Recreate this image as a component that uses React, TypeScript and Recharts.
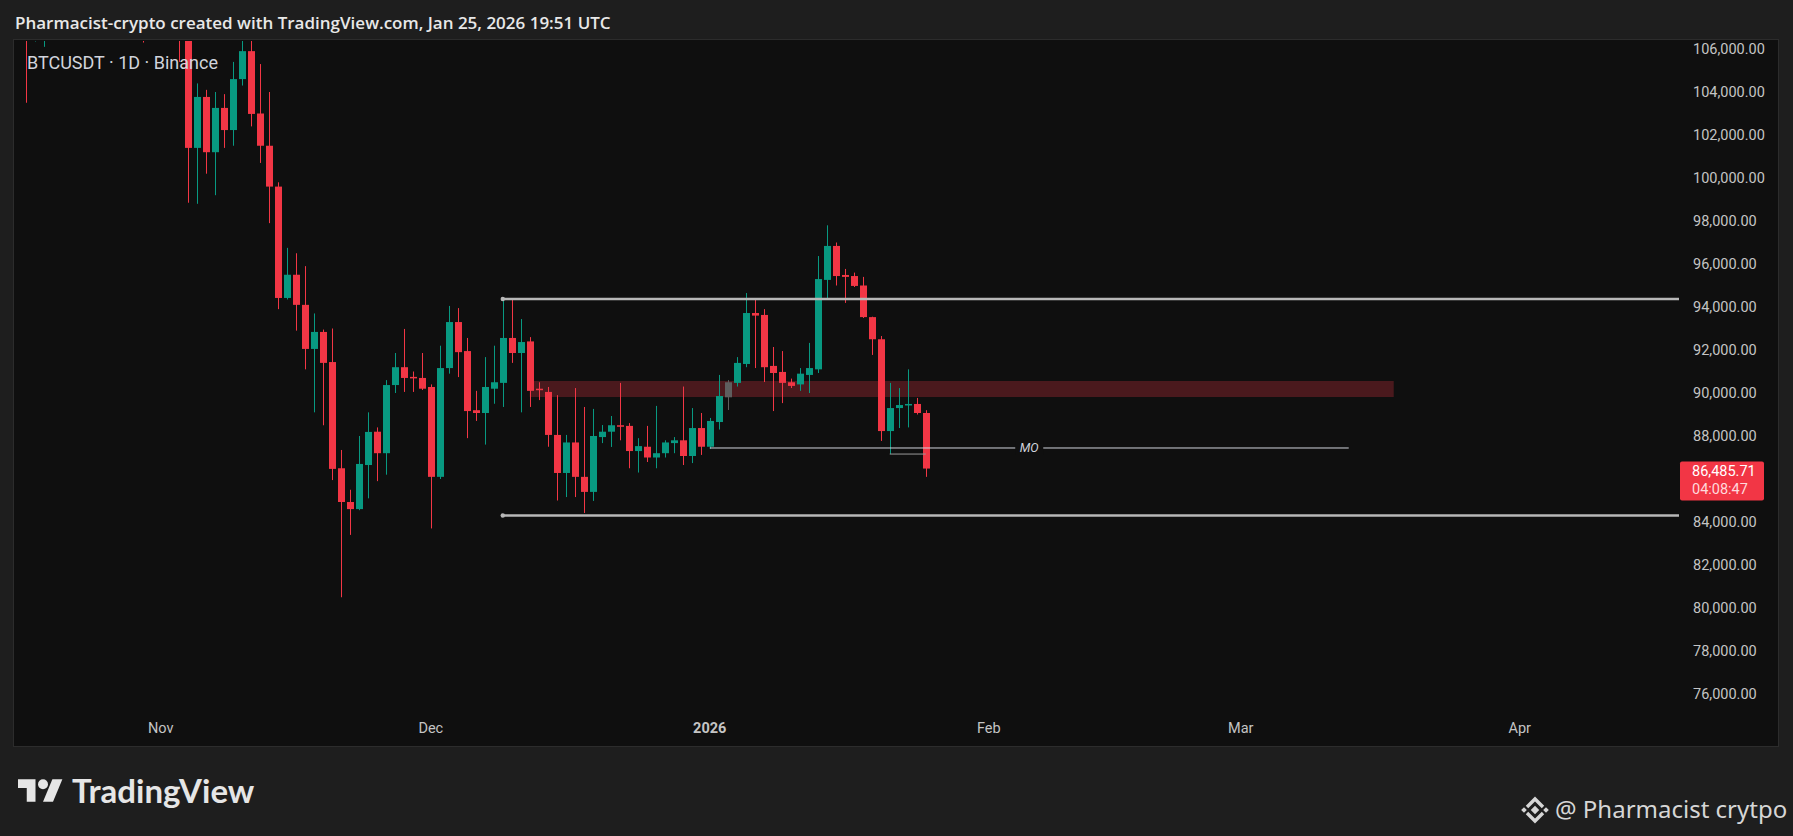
import React from "react";
import { ComposedChart, Bar, XAxis, YAxis, ReferenceLine, ReferenceArea, ReferenceDot } from "recharts";

// BTCUSDT daily candles, Binance (upper ones are off-screen)
const dates = [
  "2025-10-16", "2025-10-17", "2025-10-18", "2025-10-19", "2025-10-20", "2025-10-21", "2025-10-22", "2025-10-23",
  "2025-10-24", "2025-10-25", "2025-10-26", "2025-10-27", "2025-10-28", "2025-10-29", "2025-10-30", "2025-10-31",
  "2025-11-01", "2025-11-02", "2025-11-03", "2025-11-04", "2025-11-05", "2025-11-06", "2025-11-07", "2025-11-08",
  "2025-11-09", "2025-11-10", "2025-11-11", "2025-11-12", "2025-11-13", "2025-11-14", "2025-11-15", "2025-11-16",
  "2025-11-17", "2025-11-18", "2025-11-19", "2025-11-20", "2025-11-21", "2025-11-22", "2025-11-23", "2025-11-24",
  "2025-11-25", "2025-11-26", "2025-11-27", "2025-11-28", "2025-11-29", "2025-11-30", "2025-12-01", "2025-12-02",
  "2025-12-03", "2025-12-04", "2025-12-05", "2025-12-06", "2025-12-07", "2025-12-08", "2025-12-09", "2025-12-10",
  "2025-12-11", "2025-12-12", "2025-12-13", "2025-12-14", "2025-12-15", "2025-12-16", "2025-12-17", "2025-12-18",
  "2025-12-19", "2025-12-20", "2025-12-21", "2025-12-22", "2025-12-23", "2025-12-24", "2025-12-25", "2025-12-26",
  "2025-12-27", "2025-12-28", "2025-12-29", "2025-12-30", "2025-12-31", "2026-01-01", "2026-01-02", "2026-01-03",
  "2026-01-04", "2026-01-05", "2026-01-06", "2026-01-07", "2026-01-08", "2026-01-09", "2026-01-10", "2026-01-11",
  "2026-01-12", "2026-01-13", "2026-01-14", "2026-01-15", "2026-01-16", "2026-01-17", "2026-01-18", "2026-01-19",
  "2026-01-20", "2026-01-21", "2026-01-22", "2026-01-23", "2026-01-24", "2026-01-25",
];
const opens = [
  110700, 108200, 106400, 107200, 108600, 110500, 108400, 107600, 110000, 111000, 111600, 114500, 114100, 112900, 110000, 108300,
  109600, 110100, 110600, 106600, 101400, 103770, 101200, 103260, 102230, 104600, 105900, 103000, 101500, 99600, 94420, 95500,
  94100, 92050, 92840, 91440, 86500, 84930, 84600, 86650, 88200, 87200, 90370, 91200, 90750, 90700, 90280, 86100,
  91160, 93300, 91950, 89200, 89070, 90200, 90470, 92560, 91860, 92400, 90200, 90050, 88050, 86280, 87700, 86100,
  85400, 87950, 88200, 88500, 88470, 87300, 87500, 87000, 87200, 87670, 87800, 87070, 88370, 87500, 88650, 89800,
  90470, 91350, 93720, 93630, 91260, 90980, 90500, 90400, 90840, 91100, 95260, 96840, 95490, 95440, 95000, 93530,
  92500, 88230, 89300, 89440, 89490, 89070,
];
const highs = [
  111900, 109200, 107500, 109400, 111700, 114000, 109000, 111300, 112000, 111900, 115000, 116400, 116100, 113600, 111600, 111200,
  110600, 111200, 110800, 107000, 104400, 104100, 104000, 103900, 105400, 106600, 107500, 105300, 104000, 99800, 96750, 96500,
  95900, 93700, 92950, 93000, 87350, 85500, 88000, 89100, 88400, 90600, 91860, 92980, 91000, 91860, 90400, 92200,
  94050, 93950, 92560, 90100, 91670, 92200, 94400, 94370, 93440, 92600, 90500, 90280, 89900, 88050, 90230, 89350,
  89260, 88510, 88930, 90470, 88600, 87900, 88470, 89400, 87800, 87950, 90300, 89300, 89070, 88840, 90840, 90600,
  91670, 94650, 94370, 93900, 92140, 91950, 90670, 91160, 92330, 96370, 97800, 97000, 95770, 95600, 95400, 93550,
  92650, 90470, 90230, 91100, 89770, 89200,
];
const lows = [
  107500, 103500, 106350, 106100, 107400, 107400, 106900, 107500, 109700, 110700, 111300, 113800, 112200, 109200, 106300, 108000,
  109400, 109600, 105400, 98850, 98800, 100200, 99200, 101400, 101500, 104300, 102400, 100700, 97900, 93900, 94350, 92900,
  91100, 89100, 88500, 85950, 80500, 83400, 84550, 85100, 85900, 86200, 90000, 90050, 90050, 90140, 83700, 86000,
  90900, 90740, 87900, 88700, 87600, 89500, 89350, 91400, 89100, 89350, 89670, 87500, 85000, 85160, 85160, 84420,
  84980, 87670, 87490, 87800, 86500, 86300, 86790, 86500, 87000, 87200, 86650, 86740, 87120, 87400, 88300, 89210,
  90300, 91200, 91160, 90510, 89160, 89530, 90230, 90100, 90000, 90930, 94400, 95000, 94190, 94930, 93490, 91770,
  87770, 87160, 88370, 88400, 89000, 86100,
];
const closes = [
  108200, 106400, 107200, 108600, 110500, 108400, 107600, 110000, 111000, 111600, 114500, 114100, 112900, 110000, 108300, 109600,
  110100, 110600, 106600, 101400, 103770, 101200, 103260, 102230, 104600, 105900, 102980, 101500, 99600, 94420, 95500, 94100,
  92050, 92840, 91400, 86470, 84930, 84600, 86700, 88190, 87200, 90370, 91200, 90700, 90700, 90200, 86100, 91160,
  93300, 91900, 89160, 89070, 90280, 90500, 92560, 91860, 92370, 90100, 90140, 88050, 86280, 87700, 86100, 85400,
  88000, 88200, 88500, 88450, 87300, 87530, 87000, 87200, 87700, 87800, 87070, 88370, 87500, 88700, 89860, 90500,
  91400, 93720, 93600, 91200, 90930, 90470, 90330, 90900, 91160, 95300, 96840, 95440, 95400, 94980, 93530, 92500,
  88230, 89300, 89440, 89490, 89070, 86485.71,
];
const markedDates = ["2026-01-03"];

const monthDates = ["2025-11-01", "2025-12-01", "2026-01-01", "2026-02-01", "2026-03-01", "2026-04-01"];
const monthLabels = ["Nov", "Dec", "2026", "Feb", "Mar", "Apr"];
// 86,000 sits under the last-price tag, so TradingView leaves it out
const priceTicks = [76000, 78000, 80000, 82000, 84000, 88000, 90000, 92000, 94000, 96000, 98000, 100000, 102000, 104000, 106000];

// drawings
const rangeTop = 94372;
const rangeBottom = 84300;
const rangeFrom = "2025-12-09";
const zoneTop = 90560;
const zoneBottom = 89810;
const zoneFrom = "2025-12-12";
const zoneTo = "2026-03-18";
const moPrice = 87442;
const moFrom = "2026-01-01";
const moTo = "2026-03-13";
const sweepPrice = 87160;
const sweepFrom = "2026-01-21";
const sweepTo = "2026-01-25";
const countdown = "04:08:47";

const UP = "#089981";
const DOWN = "#f23645";
const FONT = "Roboto, 'Noto Sans', sans-serif";

const dayIndex = (d: string) => Math.round((Date.parse(d) - Date.parse("2025-11-01")) / 86400000);

const candles = dates.map((d, i) => ({
  day: dayIndex(d),
  open: opens[i],
  high: highs[i],
  low: lows[i],
  close: closes[i],
  range: [lows[i], highs[i]],
  marked: markedDates.includes(d),
}));

const lastClose = closes[closes.length - 1];
const viewFrom = -16.2;
const viewTo = 168.7;

function Candle(props: any) {
  const { x, width, payload } = props;
  let { y, height } = props;
  if (height < 0) {
    y = y + height;
    height = -height;
  }
  const { open, close, high, low, marked } = payload;
  const k = height / (high - low);
  const py = (v: number) => y + (high - v) * k;
  const color = marked ? "#5e5e5e" : close >= open ? UP : DOWN;
  const cx = Math.round(x + width / 2) + 0.5;
  const top = py(Math.max(open, close));
  const bot = py(Math.min(open, close));
  return (
    <g>
      <line x1={cx} x2={cx} y1={y} y2={y + height} stroke={color} strokeWidth={1} />
      <rect x={cx - 3.5} y={top} width={7} height={Math.max(1.5, bot - top)} fill={color} />
    </g>
  );
}

function MonthTick(props: any) {
  const { x, y, payload } = props;
  const i = monthDates.map(dayIndex).indexOf(payload.value);
  const label = monthLabels[i] ?? "";
  return (
    <text x={x} y={y + 19} textAnchor="middle" fill="#c4c4c4" fontSize={14.5} fontFamily={FONT} fontWeight={label === "2026" ? 700 : 400}>
      {label}
    </text>
  );
}

function PriceTick(props: any) {
  const { x, y, payload } = props;
  return (
    <text x={x} y={y + 5} textAnchor="start" fill="#c4c4c4" fontSize={14.5} fontFamily={FONT}>
      {payload.value.toLocaleString("en-US", { minimumFractionDigits: 2, maximumFractionDigits: 2 })}
    </text>
  );
}

function PriceTag(props: any) {
  const vb = props.viewBox;
  const left = vb.x + vb.width + 1;
  const y = vb.y;
  return (
    <g>
      <rect x={left} y={y - 7} width={84} height={39} rx={2} fill={DOWN} />
      <text x={left + 12} y={y + 7.5} fill="#ffffff" fontSize={14.5} fontFamily={FONT}>
        {lastClose.toLocaleString("en-US", { minimumFractionDigits: 2 })}
      </text>
      <text x={left + 12} y={y + 25.5} fill="#ffd9dc" fontSize={14.5} fontFamily={FONT}>
        {countdown}
      </text>
    </g>
  );
}

function MoLabel(props: any) {
  const vb = props.viewBox;
  const cx = vb.x + vb.width / 2;
  return (
    <g>
      <rect x={cx - 14} y={vb.y - 7} width={28} height={14} fill="#0f0f0f" />
      <text x={cx} y={vb.y + 4.5} textAnchor="middle" fill="#d1d4dc" fontSize={12.5} fontStyle="italic" fontFamily={FONT}>
        MO
      </text>
    </g>
  );
}

function TvLogo() {
  return (
    <svg width={45} height={23} viewBox="0 4 36 18" style={{ position: "absolute", left: 18, top: 779 }}>
      <path d="M14 22H7V11H0V4h14v18z" fill="#e6e6e6" />
      <path d="M28 22h-8l7.5-18h8L28 22z" fill="#e6e6e6" />
      <circle cx={20} cy={8} r={4} fill="#e6e6e6" />
    </svg>
  );
}

function BinanceIcon() {
  return (
    <svg width={28} height={28} viewBox="-14 -14 28 28" style={{ position: "absolute", left: 1521, top: 796 }}>
      <polyline points="-8,-3 0,-11 8,-3" fill="none" stroke="#d6d6d6" strokeWidth={3.4} />
      <polyline points="-8,3 0,11 8,3" fill="none" stroke="#d6d6d6" strokeWidth={3.4} />
      <rect x={-3} y={-3} width={6} height={6} transform="rotate(45)" fill="#d6d6d6" />
      <rect x={-13} y={-2} width={4} height={4} transform="rotate(45 -11 0)" fill="#d6d6d6" />
      <rect x={9} y={-2} width={4} height={4} transform="rotate(45 11 0)" fill="#d6d6d6" />
    </svg>
  );
}

export default function App() {
  return (
    <div style={{ position: "absolute", left: 0, top: 0, width: 1793, height: 836, background: "#1e1e1e", overflow: "hidden", fontFamily: FONT }}>
      <div style={{ position: "absolute", left: 15, top: 12, fontSize: 17, lineHeight: "22px", fontWeight: 600, color: "#e8e8e8", fontFamily: "'Open Sans', sans-serif", whiteSpace: "nowrap" }}>
        Pharmacist-crypto created with TradingView.com, Jan 25, 2026 19:51 UTC
      </div>

      <div style={{ position: "absolute", left: 14, top: 40, width: 1764, height: 706, background: "#0f0f0f", boxShadow: "0 0 0 1px #2c2c2c" }}>
        <ComposedChart width={1764} height={706} data={candles} margin={{ top: 1, right: 0, bottom: 0, left: 1 }}>
          <XAxis
            dataKey="day"
            type="number"
            domain={[viewFrom, viewTo]}
            allowDataOverflow
            ticks={monthDates.map(dayIndex)}
            interval={0}
            height={34}
            axisLine={false}
            tickLine={false}
            tickSize={0}
            tick={<MonthTick />}
          />
          <YAxis
            orientation="right"
            width={99}
            domain={[75163, 106372]}
            allowDataOverflow
            ticks={priceTicks}
            interval={0}
            axisLine={false}
            tickLine={false}
            tickSize={0}
            tickMargin={14}
            tick={<PriceTick />}
          />
          <Bar dataKey="range" barSize={7} shape={<Candle />} isAnimationActive={false} />
          <ReferenceArea
            x1={dayIndex(zoneFrom)}
            x2={dayIndex(zoneTo)}
            y1={zoneBottom}
            y2={zoneTop}
            fill={DOWN}
            fillOpacity={0.26}
            stroke="none"
          />
          <ReferenceLine
            segment={[{ x: dayIndex(rangeFrom), y: rangeTop }, { x: viewTo, y: rangeTop }]}
            stroke="#b8b8b8"
            strokeWidth={2.5}
          />
          <ReferenceLine
            segment={[{ x: dayIndex(rangeFrom), y: rangeBottom }, { x: viewTo, y: rangeBottom }]}
            stroke="#b8b8b8"
            strokeWidth={2.5}
          />
          <ReferenceDot x={dayIndex(rangeFrom)} y={rangeTop} r={2.2} fill="#b8b8b8" stroke="none" />
          <ReferenceDot x={dayIndex(rangeFrom)} y={rangeBottom} r={2.2} fill="#b8b8b8" stroke="none" />
          <ReferenceLine
            segment={[{ x: dayIndex(moFrom), y: moPrice }, { x: dayIndex(moTo), y: moPrice }]}
            stroke="#d1d4dc"
            strokeWidth={1}
            label={MoLabel}
          />
          <ReferenceLine
            segment={[{ x: dayIndex(sweepFrom), y: sweepPrice }, { x: dayIndex(sweepTo), y: sweepPrice }]}
            stroke="#9a9a9a"
            strokeWidth={1}
          />
          <ReferenceLine y={lastClose} stroke="none" label={PriceTag} />
        </ComposedChart>
      </div>

      <div style={{ position: "absolute", left: 27, top: 52, fontSize: 18, lineHeight: "22px", color: "#d1d4dc", fontFamily: FONT, whiteSpace: "nowrap" }}>
        BTCUSDT · 1D · Binance
      </div>

      <TvLogo />
      <div style={{ position: "absolute", left: 72, top: 770, fontSize: 33, lineHeight: "40px", fontWeight: 700, color: "#e6e6e6", fontFamily: "Lato, sans-serif", whiteSpace: "nowrap" }}>
        TradingView
      </div>

      <BinanceIcon />
      <div style={{ position: "absolute", left: 1555, top: 794, fontSize: 24, lineHeight: "30px", color: "#d6d6d6", fontFamily: "'Noto Sans', sans-serif", whiteSpace: "nowrap" }}>
        @ Pharmacist crytpo
      </div>
    </div>
  );
}
